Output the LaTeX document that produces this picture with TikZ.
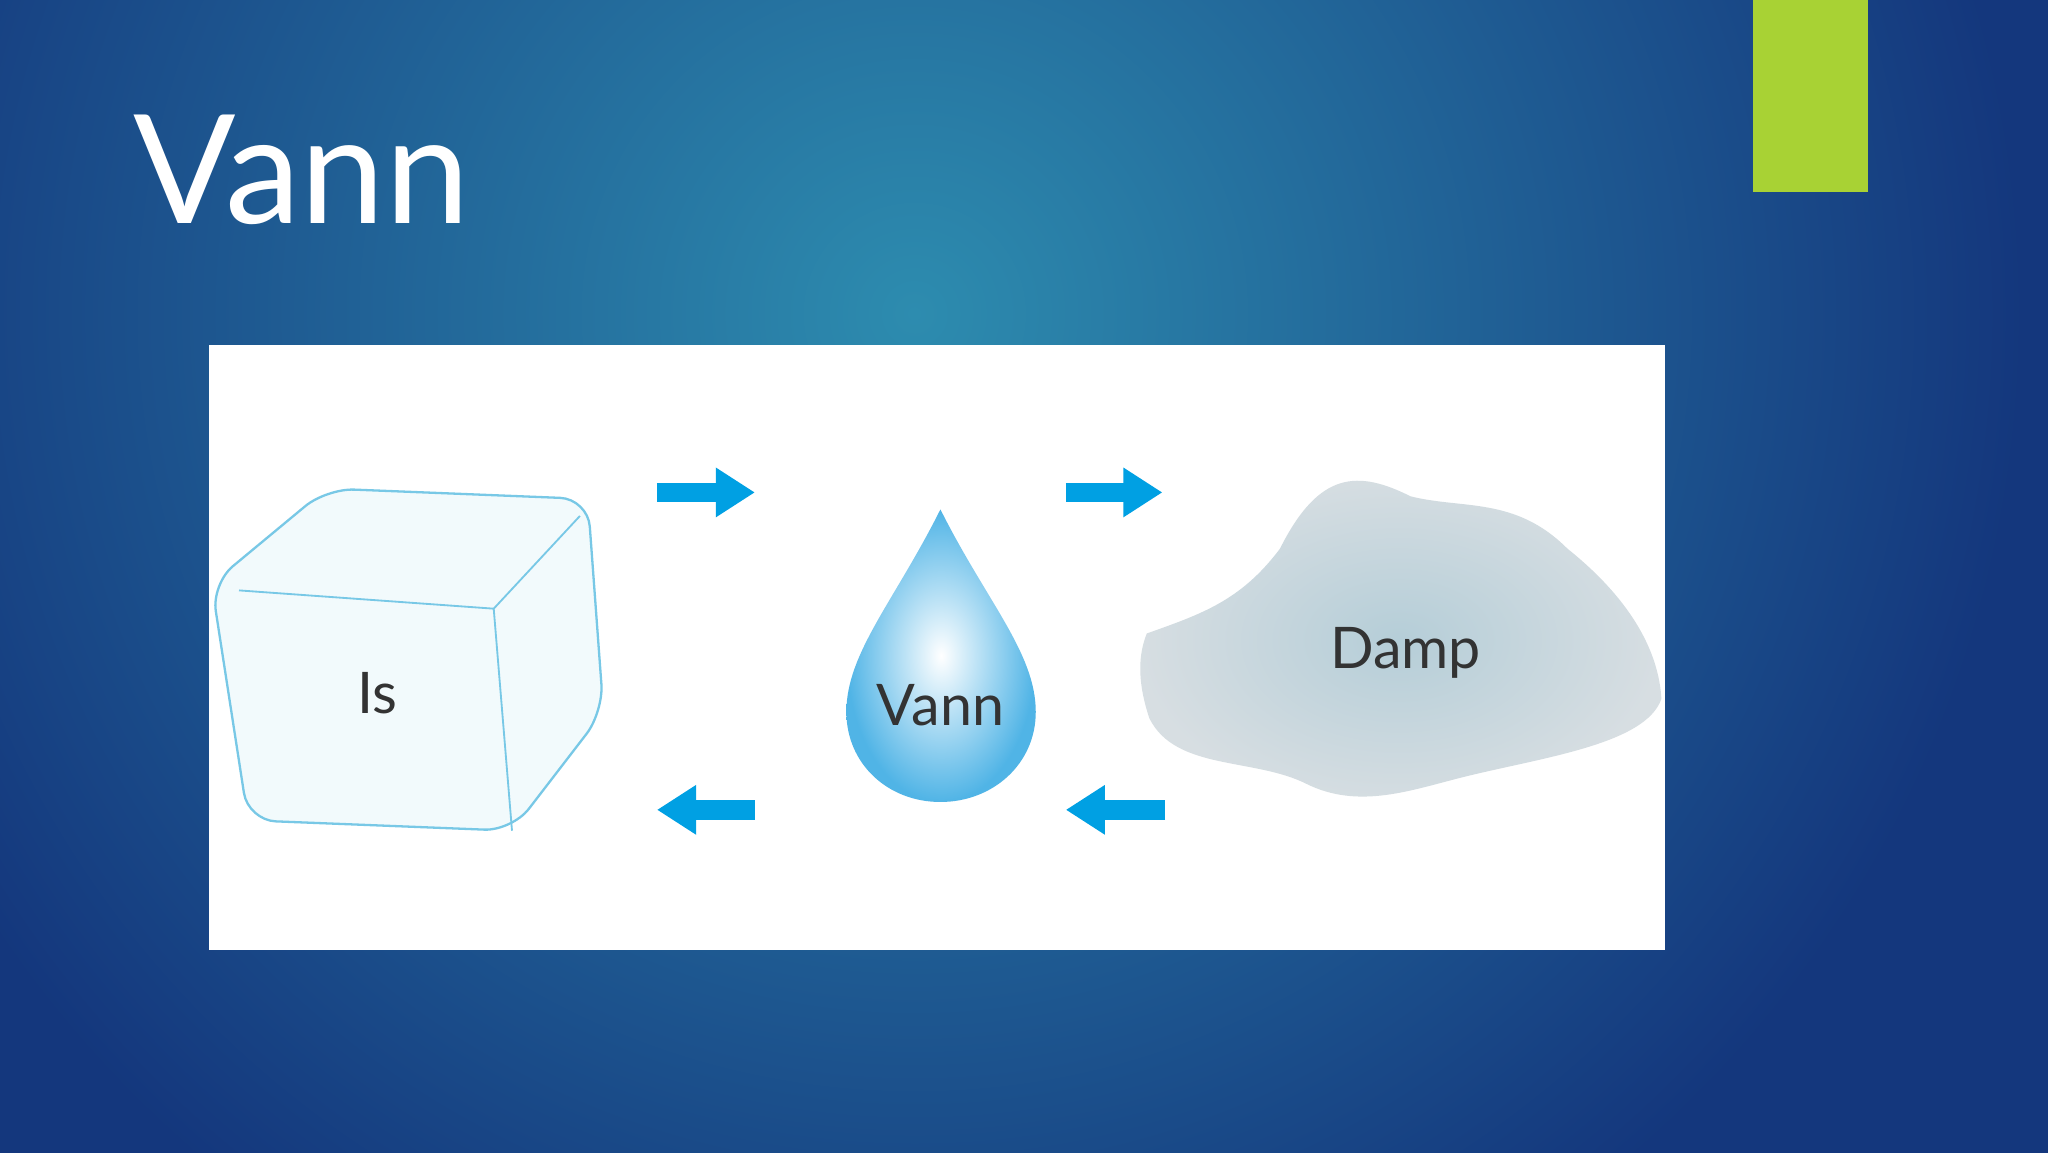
\documentclass[tikz,border=0pt]{standalone}
\usepackage{fontspec}
\setmainfont{Lato}
\usetikzlibrary{arrows.meta,positioning}
\definecolor{deepblue}{RGB}{20,55,125}
\definecolor{tealblue}{RGB}{45,140,175}
\definecolor{limegreen}{RGB}{168,210,52}
\definecolor{arrowblue}{RGB}{0,160,227}
\definecolor{icelines}{RGB}{120,200,230}
\definecolor{dropblue}{RGB}{80,180,230}
\definecolor{steam}{RGB}{215,222,226}
\tikzset{
  flow/.style={draw=arrowblue,line width=1.5mm,-{Triangle[length=3mm,width=3.6mm]}},
  ice/.style={draw=icelines,line width=0.5pt,rounded corners=6pt},
  word/.style={font=\fontsize{12.5}{14}\selectfont,text=black!80}
}
\begin{document}
\begin{tikzpicture}
    \useasboundingbox (0,0) rectangle (15.68,-8.82);
    % background
    \fill[deepblue] (-0.1,0.1) rectangle (15.78,-8.92);
    \begin{scope}
      \clip (-0.1,0.1) rectangle (15.78,-8.92);
      \shade[inner color=tealblue,outer color=deepblue] (7,-2.4) circle (8.5);
    \end{scope}
    \fill[limegreen] (13.42,0.1) rectangle (14.30,-1.47);
    \node[anchor=west,text=white,font=\fontsize{33}{36}\selectfont] (title) at (0.9,-1.3) {Vann};
    % panel
    \fill[white] (1.60,-2.64) rectangle (12.75,-7.27);
    % ice cube
    \draw[ice,fill=icelines!10] (1.62,-4.47) -- (2.50,-3.74) -- (4.50,-3.82) -- (4.62,-5.45) -- (3.92,-6.36) -- (1.90,-6.28) -- cycle;
    \draw[icelines] (1.83,-4.52) -- (3.78,-4.66) -- (3.92,-6.36);
    \draw[icelines] (3.78,-4.66) -- (4.44,-3.95);
    \node[word] (is) at (2.89,-5.31) {Is};
    % drop
    \shade[inner color=white,outer color=dropblue]
      (7.20,-3.90) .. controls (7.55,-4.60) and (7.93,-5.00) .. (7.93,-5.45)
      .. controls (7.93,-5.85) and (7.60,-6.14) .. (7.20,-6.14)
      .. controls (6.80,-6.14) and (6.48,-5.85) .. (6.48,-5.45)
      .. controls (6.48,-5.00) and (6.85,-4.60) .. (7.20,-3.90);
    \node[word] (water) at (7.20,-5.40) {Vann};
    % steam
    \shade[inner color=steam!80!tealblue,outer color=steam]
      (8.78,-4.85) .. controls (9.2,-4.7) and (9.5,-4.6) .. (9.8,-4.2)
      .. controls (10.1,-3.6) and (10.4,-3.6) .. (10.8,-3.8)
      .. controls (11.2,-3.9) and (11.6,-3.8) .. (12.0,-4.2)
      .. controls (12.5,-4.6) and (12.7,-5.0) .. (12.72,-5.35)
      .. controls (12.6,-5.7) and (11.8,-5.8) .. (11.2,-5.95)
      .. controls (10.8,-6.05) and (10.4,-6.2) .. (10.0,-6.0)
      .. controls (9.6,-5.8) and (9.0,-5.9) .. (8.80,-5.50)
      .. controls (8.70,-5.2) and (8.72,-5.0) .. (8.78,-4.85);
    \node[word] (vapour) at (10.76,-5.00) {Damp};
    % arrows
    \coordinate (a1) at (5.03,-3.77); \coordinate (b1) at (5.78,-3.77);
    \coordinate (a2) at (8.16,-3.77); \coordinate (b2) at (8.90,-3.77);
    \coordinate (a3) at (5.78,-6.20); \coordinate (b3) at (5.03,-6.20);
    \coordinate (a4) at (8.92,-6.20); \coordinate (b4) at (8.16,-6.20);
    \draw[flow] (a1) -- (b1);
    \draw[flow] (a2) -- (b2);
    \draw[flow] (a3) -- (b3);
    \draw[flow] (a4) -- (b4);
\end{tikzpicture}
\end{document}
